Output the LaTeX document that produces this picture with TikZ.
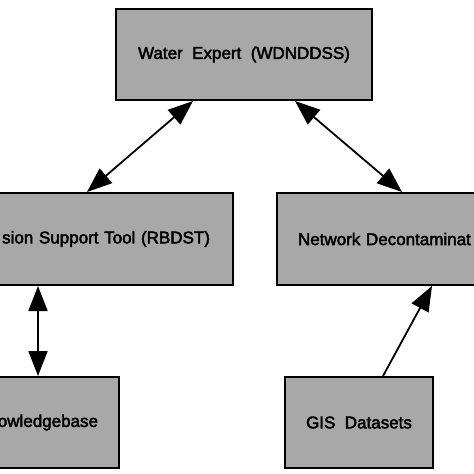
\documentclass[tikz,border=0pt]{standalone}
\usepackage{fontspec}
\setmainfont{Liberation Sans}[WordSpace=2, FakeBold=2.5]
\usetikzlibrary{arrows.meta,calc}
\definecolor{boxgray}{HTML}{A8A8A8}
\tikzset{
  box/.style={draw=black, line width=2pt, fill=boxgray, inner sep=0pt,
    font=\fontsize{17}{20}\selectfont},
  link/.style={line width=1.8pt, draw=black},
  tip/.style={-{Triangle[length=25pt,width=19pt]}},
  dtip/.style={{Triangle[length=25pt,width=19pt]}-{Triangle[length=25pt,width=19pt]}}
}
\begin{document}
\begin{tikzpicture}[x=1pt,y=-1pt]
\useasboundingbox (0,0) rectangle (474,474);
\clip (0,0) rectangle (474,474);
\fill[white] (0,0) rectangle (474,474);
\node[box, minimum width=256pt, minimum height=91pt] (water) at (244,54.5) {Water Expert (WDNDDSS)};
\node[box, minimum width=386pt, minimum height=92pt, inner xsep=23pt, text width=340pt, align=right] (rbdst) at (40,239) {sion Support Tool (RBDST)};
\node[box, minimum width=250pt, minimum height=92pt, inner xsep=21pt, text width=208pt, align=left] (net) at (402,239) {Network Decontaminat};
\node[box, minimum width=162pt, minimum height=91pt, inner xsep=21pt, text width=120pt, align=right] (kb) at (38,422.5) {owledgebase};
\node[box, minimum width=148pt, minimum height=91pt] (gis) at (359,422.5) {GIS Datasets};
\draw[link, dtip] ([xshift=-51pt]water.south) -- ([xshift=47pt]rbdst.north);
\draw[link, dtip] ([xshift=51pt]water.south) -- (net.north);
\draw[link, dtip] ([xshift=-2pt]rbdst.south) -- (kb.north);
\draw[link, tip] ([xshift=24pt]gis.north) -- ([xshift=30pt]net.south);
\end{tikzpicture}
\end{document}
